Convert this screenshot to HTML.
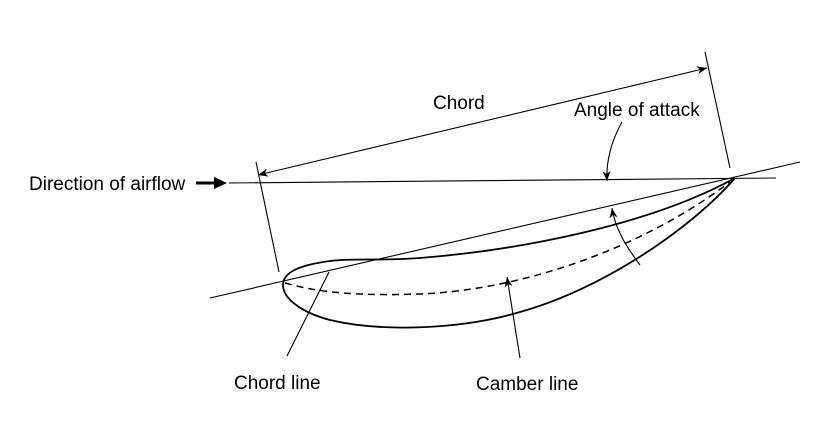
<!DOCTYPE html>
<html><head><style>
html,body{margin:0;padding:0;background:#fff;}
svg{display:block}
text{font-family:"Liberation Sans",sans-serif;font-size:19px;fill:#000}
</style></head><body>
<svg width="825" height="447" viewBox="0 0 825 447" xmlns="http://www.w3.org/2000/svg">
<defs>
<marker id="a" viewBox="0 0 10 10" refX="10" refY="5" markerWidth="14" markerHeight="10" markerUnits="userSpaceOnUse" orient="auto-start-reverse">
<path d="M0,1 L10,5 L0,9 L3,5 Z" fill="#000"/>
</marker>
</defs>
<g stroke="#000" fill="none" stroke-width="1.1">
<line x1="229" y1="183" x2="776" y2="178"/>
<line x1="210" y1="298" x2="800" y2="162"/>
<line x1="256" y1="162" x2="279" y2="272"/>
<line x1="705" y1="52" x2="730" y2="168"/>
<line x1="258" y1="175" x2="707" y2="68" marker-start="url(#a)" marker-end="url(#a)"/>
<path stroke-width="1.8" d="M735,178 C650,225 520,250 420,258 C380,261 350,258 330,261 C300,265 283,272 283,285 C283,298 300,312 330,320 C380,332 460,330 520,312 C600,290 690,230 735,178 Z"/>
<path stroke-width="1.5" stroke-dasharray="7,5" d="M285,283 C320,293 360,296 420,294 C520,290 640,250 730,182"/>
<path d="M640,265 C625,245 615,228 612,208" marker-end="url(#a)"/>
<path d="M622,122 C612,140 606,160 607,181" marker-end="url(#a)"/>
<line x1="287" y1="356" x2="329" y2="272"/>
<line x1="520" y1="358" x2="507" y2="277" marker-end="url(#a)"/>
<line x1="196" y1="183" x2="218" y2="183" stroke-width="3"/>
<path d="M214,177 L227,183 L214,189 Z" fill="#000" stroke="none"/>
</g>
<text x="433" y="109">Chord</text>
<text x="574" y="116">Angle of attack</text>
<text x="29" y="190">Direction of airflow</text>
<text x="234" y="389">Chord line</text>
<text x="476" y="390">Camber line</text>
</svg>
</body></html>
